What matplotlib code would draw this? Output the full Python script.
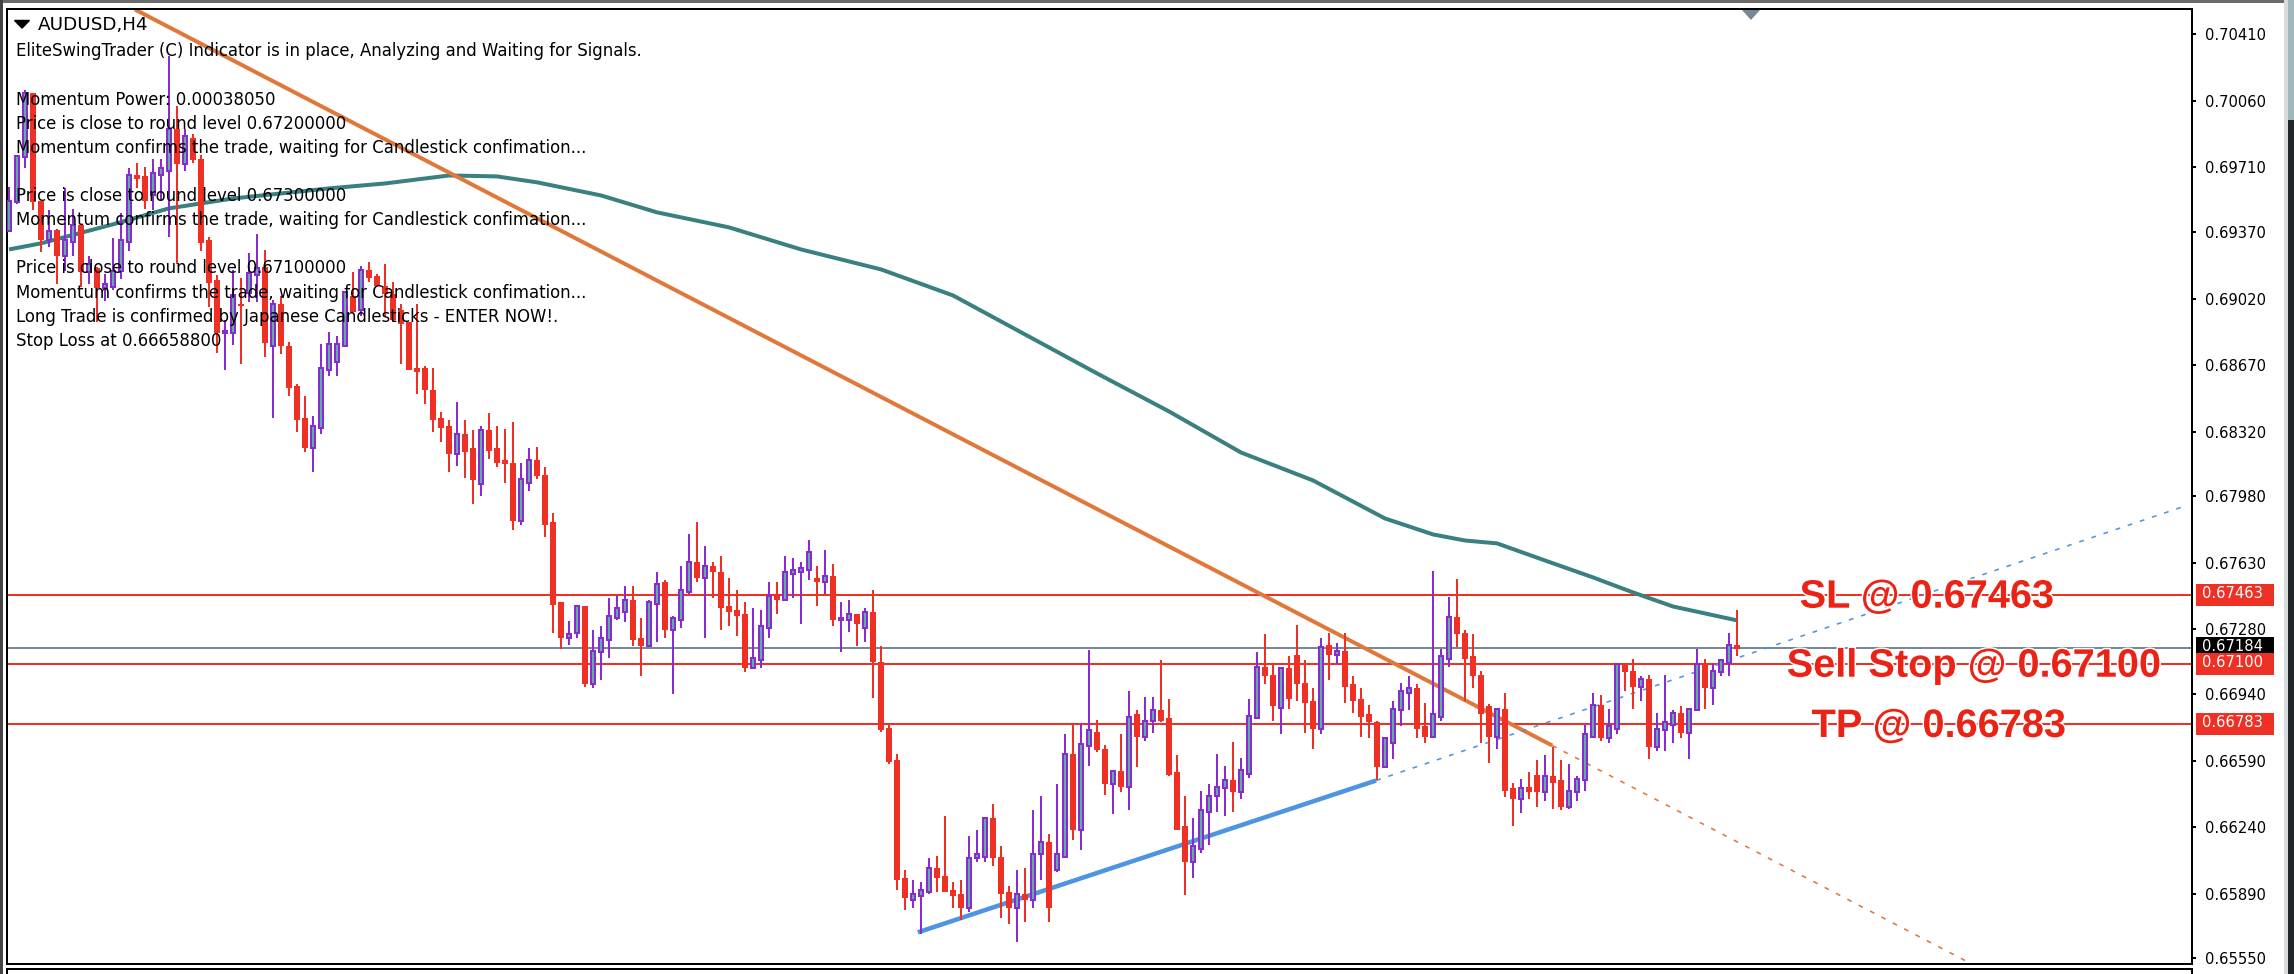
import matplotlib
matplotlib.use('Agg')
import matplotlib.pyplot as plt
import matplotlib.patheffects as pe
from matplotlib.lines import Line2D
from matplotlib.patches import Polygon, Rectangle
import numpy as np

# prices in points (1e-5), one entry per H4 candle
opens = [69375,69526,69764,70104,69536,69326,69379,69242,69319,69410,69158,69179,69074,69084,69168,69317,69673,69663,69563,69673,
         69694,69915,69726,69863,69757,69326,69116,68838,68837,68990,69048,69142,69184,68769,68990,68769,68559,68391,68233,68338,
         68643,68685,68769,69032,68959,69169,69137,69085,69043,68959,68895,68654,68654,68538,68391,68348,68201,68306,68233,68043,
         68327,68232,68169,68158,67853,68053,68169,68095,67843,67422,67233,67264,67401,66991,67159,67223,67338,67370,67433,67233,
         67191,67412,67528,67275,67328,67475,67633,67549,67612,67580,67401,67380,67359,67075,67117,67286,67454,67433,67570,67580,
         67591,67549,67528,67559,67328,67328,67359,67286,67370,67107,66760,66591,65971,65855,65876,65897,66023,65981,65908,65887,
         65813,66076,66086,66286,66086,65897,65813,65887,65855,66097,66160,66013,66086,66623,66223,66665,66739,66654,66465,66538,
         66454,66833,66717,66801,66854,66812,66528,66244,66055,66128,66318,66402,66444,66486,66423,66518,66815,67085,67043,66868,
         67075,67148,67001,66906,66759,67201,67148,67169,66991,66917,66833,66791,66559,66685,66854,66948,66970,66770,66717,66822,
         67127,67348,67264,67138,67043,66875,66717,66864,66444,66391,66454,66517,66423,66507,66486,66349,66423,66486,66717,66885,
         66707,66759,67096,67064,66980,67022,66664,66749,66780,66843,66738,66854,67096,66970,67054,67106,67201]
highs = [69607,69768,70115,70104,69536,69484,69389,69600,69494,69410,69242,69189,69151,69337,69473,69705,69736,69715,69757,69757,
         70294,70031,69915,69884,69778,69347,69147,68906,69169,69127,69258,69358,69274,69011,69032,68790,68569,68506,68401,68780,
         68843,68822,69053,69158,69190,69211,69148,69201,69106,68990,68895,68990,68664,68654,68422,68380,68475,68380,68327,68348,
         68421,68348,68337,68369,68158,68232,68242,68137,67895,67422,67327,67411,67401,67275,67296,67444,67454,67507,67507,67338,
         67433,67580,67538,67349,67612,67780,67843,67717,67633,67664,67549,67486,67422,67391,67380,67528,67528,67664,67654,67633,
         67749,67612,67696,67622,67422,67433,67359,67391,67486,67191,66781,66623,66013,65960,65950,66076,66087,66297,65950,65960,
         66192,66223,66286,66360,66139,65929,66013,66023,66328,66402,66202,66465,66728,66784,66784,67170,66802,66675,66538,66728,
         66959,66854,66927,66927,67117,66917,66622,66402,66286,66433,66465,66623,66560,66686,66602,66917,67159,67254,67099,67085,
         67138,67306,67117,66970,67233,67264,67211,67264,67033,66970,66885,66801,66717,66906,67001,67033,66991,66896,67590,67180,
         67453,67548,67275,67254,67064,66889,66864,66948,66475,66496,66528,66591,66622,66664,66591,66570,66507,66780,66948,66938,
         66864,67096,67096,67127,67033,67043,66843,67043,66854,66875,66864,67180,67127,67096,67127,67264,67380]
lows = [69375,69519,69705,69484,69263,69294,69095,69168,69242,69084,69095,68895,69010,69063,69126,69273,69600,69494,69484,69536,
        69347,69200,69694,69736,69273,68975,68732,68643,68774,68674,69000,69000,68711,68391,68727,68506,68317,68212,68107,68306,
        68611,68611,68769,68948,68927,69106,69085,68927,68895,68675,68643,68517,68464,68317,68264,68107,68138,68075,67938,67980,
        68179,68137,68053,67801,67832,68011,68074,67769,67264,67180,67201,67233,66980,66970,67012,67128,67328,67317,67191,67033,
        67191,67212,67233,66939,67286,67465,67528,67233,67444,67275,67296,67244,67054,67075,67075,67233,67359,67433,67444,67307,
        67538,67401,67465,67296,67159,67265,67191,67212,66918,66739,66570,65908,65802,65813,65676,65887,65897,65897,65813,65750,
        65792,66055,66055,66034,65760,65729,65634,65739,65813,65960,65739,66002,66076,66171,66118,66560,66634,66412,66307,66423,
        66328,66559,66696,66738,66791,66507,66223,65886,65971,66107,66149,66318,66297,66318,66391,66497,66815,66991,66801,66728,
        66864,66906,66738,66654,66728,67012,67096,66896,66843,66717,66707,66486,66549,66601,66770,66854,66707,66685,66717,66801,
        67085,67190,66906,66970,66685,66580,66654,66401,66244,66317,66391,66349,66380,66338,66328,66338,66380,66433,66707,66696,
        66685,66728,66959,66864,66906,66601,66643,66643,66685,66707,66601,66854,66864,66885,67033,67033,67138]
closes = [69536,69768,70101,69526,69326,69375,69242,69326,69410,69158,69200,69074,69095,69168,69326,69673,69652,69536,69680,69705,
          69915,69726,69873,69747,69315,69105,68837,68848,69037,68980,69153,69179,68785,68990,68769,68548,68380,68233,68348,68654,
          68780,68780,69053,68948,69169,69127,69085,69043,68906,68885,68643,68632,68538,68380,68338,68201,68306,68212,68064,68327,
          68221,68158,68148,67853,68074,68169,68085,67832,67411,67233,67254,67401,66991,67169,67233,67349,67391,67433,67223,67191,
          67422,67517,67275,67338,67486,67633,67549,67612,67580,67391,67370,67349,67075,67128,67296,67454,67433,67580,67591,67601,
          67685,67528,67559,67328,67338,67359,67307,67370,67107,66749,66581,65960,65866,65887,65908,66023,65971,65897,65876,65813,
          66076,66097,66286,66076,65887,65813,65887,65855,66097,66160,65813,66097,66623,66223,66676,66749,66644,66465,66538,66454,
          66822,66717,66801,66854,66801,66517,66223,66055,66139,66328,66402,66454,66486,66423,66539,66823,67085,67033,66875,67075,
          66917,66991,66896,66759,67190,67148,67169,66980,66906,66822,66791,66559,66707,66864,66959,66970,66759,66717,66833,67138,
          67348,67254,67127,67033,66833,66717,66864,66433,66391,66444,66423,66423,66507,66475,66349,66433,66496,66728,66885,66707,
          66770,67096,67054,66980,67022,66664,66759,66791,66843,66738,66864,67096,66970,67064,67117,67201,67180]

# moving average, sampled every few candles
ma_idx = [0,4,13,20,28,40,47,55,61,66,74,81,90,99,109,118,127,136,145,154,163,172,178,182,186,192,198,203,208,216]
ma_val = [69279,69311,69411,69495,69547,69600,69626,69668,69663,69632,69563,69474,69395,69279,69174,69037,68832,68627,
          68427,68211,68064,67864,67780,67748,67733,67643,67554,67475,67401,67328]

# trend lines: two anchors, then the end of the dotted extension
down_idx = [15.75, 192.9, 244.5]
down_val = [70541, 66670, 65539]
up_idx = [113.6, 170.9, 272.25]
up_val = [65687, 66486, 67933]

level_names = ['SL', 'Sell Stop', 'TP']
level_vals = [67463, 67100, 66783]
bid = 67184

tick_vals = [70410,70060,69710,69370,69020,68670,68320,67980,67630,67280,66940,66590,66240,65890,65550]

info_lines = ['EliteSwingTrader (C) Indicator is in place, Analyzing and Waiting for Signals.',
              '',
              'Momentum Power: 0.00038050',
              'Price is close to round level 0.67200000',
              'Momentum confirms the trade, waiting for Candlestick confimation...',
              '',
              'Price is close to round level 0.67300000',
              'Momentum confirms the trade, waiting for Candlestick confimation...',
              '',
              'Price is close to round level 0.67100000',
              'Momentum confirms the trade, waiting for Candlestick confimation...',
              'Long Trade is confirmed by Japanese Candlesticks - ENTER NOW!.',
              'Stop Loss at 0.66658800']

RED = '#ee3124'
PURPLE = '#8a2bd2'
FILL = '#5fae9f'
TEAL = '#3a8080'
ORANGE = '#e0783c'
BLUE = '#4f94e0'
GRAY = '#778899'

W, H = 2294, 974
px = 72 / 100  # one pixel in points
PT = 5.26e-5   # price per pixel on the y axis

fig = plt.figure(figsize=(W / 100, H / 100), dpi=100, facecolor='white')
ax = fig.add_axes([6.5 / W, 1 - 964 / H, (2191.5 - 6.5) / W, (964 - 9) / H])
ax.set_xlim(-0.3125, 272.8125)
ax.set_ylim(0.655206, 0.705436)
ax.set_xticks([])

p = lambda v: np.asarray(v) / 1e5
o, h, l, c = p(opens), p(highs), p(lows), p(closes)
x = np.arange(len(o))
up = c >= o

# levels sit under the candles on the chart
ax.hlines(p(level_vals), -1, 280, color=RED, lw=2 * px, zorder=1)
ax.axhline(bid / 1e5, color=GRAY, lw=2 * px, zorder=1)

ax.plot(ma_idx, p(ma_val), color=TEAL, lw=4 * px, zorder=2, solid_capstyle='butt')
ax.plot(down_idx[:2], p(down_val[:2]), color=ORANGE, lw=4 * px, zorder=2, solid_capstyle='butt')
ax.plot(down_idx[1:], p(down_val[1:]), color=ORANGE, lw=1.6 * px, ls=(0, (3, 5)), zorder=2)
ax.plot(up_idx[:2], p(up_val[:2]), color=BLUE, lw=4.5 * px, zorder=2, solid_capstyle='butt')
ax.plot(up_idx[1:], p(up_val[1:]), color=BLUE, lw=1.6 * px, ls=(0, (3, 5)), zorder=2)

ax.vlines(x[~up], l[~up], h[~up], color=RED, lw=2 * px, zorder=3)
ax.vlines(x[up], l[up], h[up], color=PURPLE, lw=2 * px, zorder=3)
ax.bar(x[~up], o[~up] - c[~up], bottom=c[~up], width=6 / 8, color=RED, lw=0, zorder=4)
ax.bar(x[up], c[up] - o[up], bottom=o[up], width=4 / 8, color=FILL, edgecolor=PURPLE, lw=2 * px, zorder=4)

for sp in ax.spines.values():
    sp.set_linewidth(2 * px)
ax.yaxis.tick_right()
ax.set_yticks(p(tick_vals))
ax.set_yticklabels(['%.5f' % (t / 1e5) for t in tick_vals])
ax.tick_params(axis='y', length=4 * px, width=2 * px, pad=7, labelsize=10.6)

# info text, one line every 24 px below the symbol
ax.text(0.0143, 0.9835, 'AUDUSD,H4', transform=ax.transAxes, fontsize=13.2, va='center', zorder=6)
ax.fill([0.0037, 0.0105, 0.0071], [0.988, 0.988, 0.980], color='black', transform=ax.transAxes, zorder=6)
for k, line in enumerate(info_lines):
    y_px = 51.5 + 24.1 * k
    ax.text(0.0045, 1 - (y_px - 9) / 955, line, transform=ax.transAxes, fontsize=11.9, va='center', zorder=6)

# order labels over the lines
halo = [pe.withStroke(linewidth=2.2, foreground='white')]
for name, val, xc in zip(level_names, level_vals, [1927, 1974, 1939]):
    ax.text((xc - 6.5) / 2185, val / 1e5 - 2 * PT, '%s @ %.5f' % (name, val / 1e5), transform=ax.get_yaxis_transform(),
            family='Liberation Sans', weight='bold', fontsize=28.6, color='#ea2316', ha='center', va='center',
            path_effects=halo, zorder=7)

# price tags on the scale, current price behind the pending order
trans = ax.get_yaxis_transform()
for val, col, z in [(bid, 'black', 5), (level_vals[0], RED, 6), (level_vals[1], RED, 6), (level_vals[2], RED, 6)]:
    ax.add_patch(Rectangle((1.0021, val / 1e5 - 11 * PT), 78 / 2185, 22 * PT, transform=trans,
                           fc=col, ec='none', clip_on=False, zorder=z))
    ax.text(1.0048, val / 1e5 + PT, '%.5f' % (val / 1e5), transform=trans, color='white', fontsize=10.6,
            va='center', clip_on=False, zorder=z + 0.5)

# window chrome around the chart
fig.patches.append(Rectangle((0, 1 - 3 / H), 1, 3 / H, transform=fig.transFigure, fc='#6a6a6a', ec='none'))
fig.patches.append(Rectangle((0, 0), 2.5 / W, 1, transform=fig.transFigure, fc='#444444', ec='none'))
fig.patches.append(Rectangle((2284 / W, 0), 4 / W, 1, transform=fig.transFigure, fc='#d8dcdc', ec='none'))
fig.patches.append(Rectangle((2288 / W, 0), 6 / W, 1 - 120 / H, transform=fig.transFigure, fc='#20262a', ec='none'))
fig.patches.append(Rectangle((2288 / W, 1 - 120 / H), 6 / W, 120 / H, transform=fig.transFigure, fc='#9fb8ba', ec='none'))
# little marker hanging from the top edge
fig.add_artist(Polygon([[1742 / W, 1 - 10 / H], [1760 / W, 1 - 10 / H], [1751 / W, 1 - 20 / H]], closed=True,
                       transform=fig.transFigure, fc=GRAY, ec='none'))
fig.add_artist(Line2D([6.5 / W, 2191.5 / W], [1 - 969 / H, 1 - 969 / H], color='black', lw=2 * px))
fig.add_artist(Line2D([6.5 / W, 6.5 / W], [0, 1 - 969 / H], color='black', lw=2 * px))
fig.add_artist(Line2D([2191.5 / W, 2191.5 / W], [1 - 974 / H, 1 - 969 / H], color='black', lw=2 * px))

fig.savefig('out.png', dpi=100)
